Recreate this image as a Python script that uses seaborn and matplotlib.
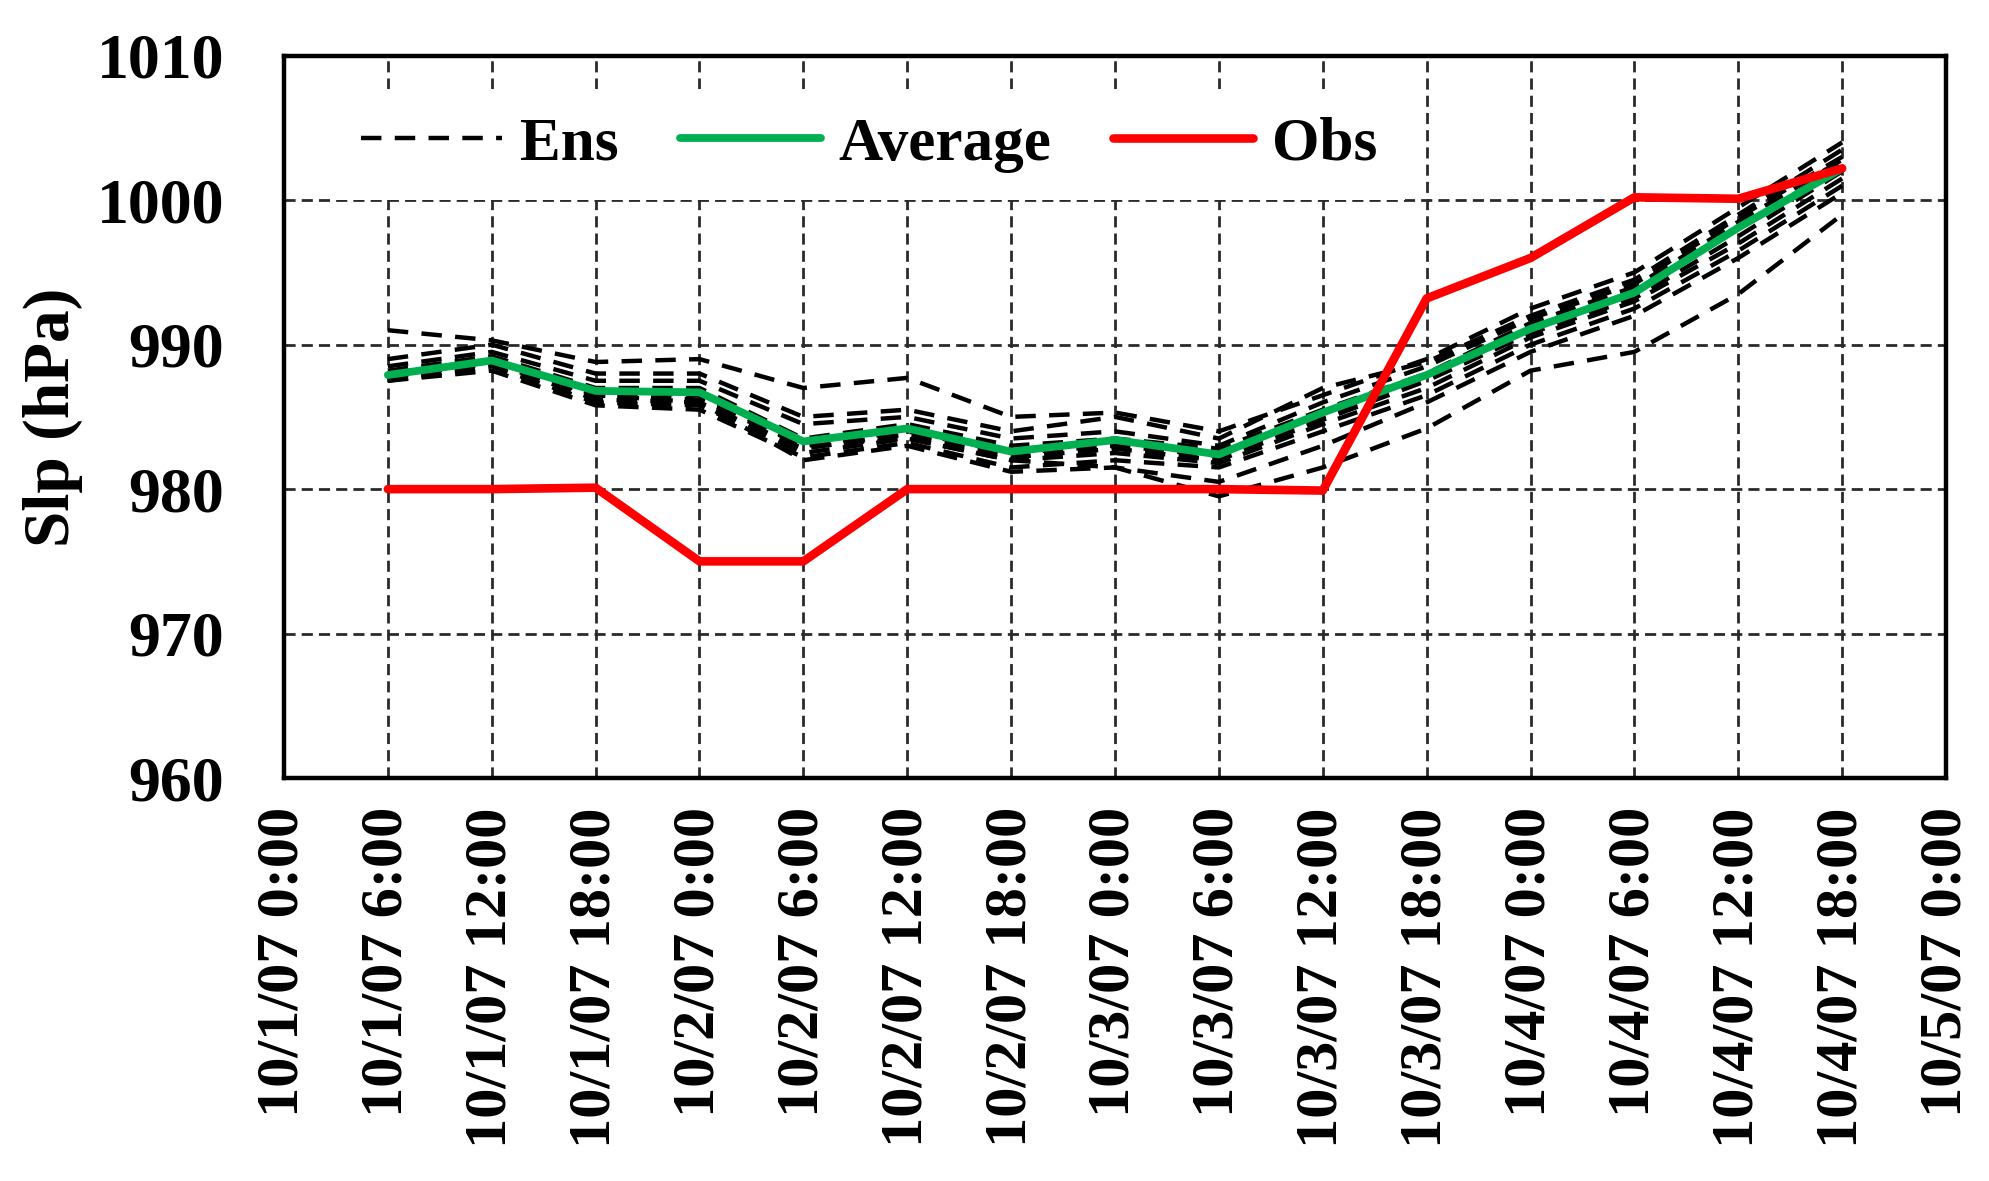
import numpy as np
import pandas as pd
import matplotlib
matplotlib.use("Agg")
import matplotlib.pyplot as plt
from matplotlib.lines import Line2D
import seaborn as sns

# ---------------- data ----------------
times = ["10/1/07 6:00", "10/1/07 12:00", "10/1/07 18:00",
         "10/2/07 0:00", "10/2/07 6:00", "10/2/07 12:00", "10/2/07 18:00",
         "10/3/07 0:00", "10/3/07 6:00", "10/3/07 12:00", "10/3/07 18:00",
         "10/4/07 0:00", "10/4/07 6:00", "10/4/07 12:00", "10/4/07 18:00"]

tick_labels = ["10/1/07 0:00", "10/1/07 6:00", "10/1/07 12:00", "10/1/07 18:00",
               "10/2/07 0:00", "10/2/07 6:00", "10/2/07 12:00", "10/2/07 18:00",
               "10/3/07 0:00", "10/3/07 6:00", "10/3/07 12:00", "10/3/07 18:00",
               "10/4/07 0:00", "10/4/07 6:00", "10/4/07 12:00", "10/4/07 18:00",
               "10/5/07 0:00"]

obs = [980.0, 980.0, 980.1, 975.0, 975.0, 980.0, 980.0, 980.0, 980.0,
       979.9, 993.2, 996.0, 1000.2, 1000.1, 1002.2]

average = [987.9, 988.9, 986.8, 986.7, 983.3, 984.2, 982.6, 983.4, 982.4,
           985.3, 987.9, 991.1, 993.6, 998.1, 1002.2]

ens_01 = [991.0, 990.3, 988.8, 989.0, 987.0, 987.7, 985.0, 985.3, 984.0, 986.5, 989.0, 992.5, 995.0, 999.5, 1004.0]
ens_02 = [989.0, 990.0, 988.0, 988.0, 985.0, 985.5, 984.0, 985.0, 983.5, 987.0, 988.8, 992.0, 994.5, 999.0, 1003.5]
ens_03 = [988.5, 989.5, 987.5, 987.5, 984.5, 985.0, 983.5, 984.0, 983.0, 986.0, 988.5, 991.8, 994.2, 998.8, 1003.0]
ens_04 = [988.2, 989.2, 987.0, 987.0, 983.5, 984.5, 983.0, 983.5, 982.8, 985.5, 988.0, 991.5, 994.0, 998.5, 1002.8]
ens_05 = [988.0, 989.0, 986.8, 986.5, 983.0, 984.0, 982.5, 983.0, 982.3, 985.0, 987.8, 991.0, 993.5, 998.0, 1002.5]
ens_06 = [987.8, 988.7, 986.5, 986.0, 982.8, 983.8, 982.2, 982.8, 982.0, 984.8, 987.5, 990.8, 993.2, 997.5, 1002.0]
ens_07 = [987.5, 988.5, 986.0, 985.8, 982.5, 983.5, 982.0, 982.5, 981.8, 984.5, 987.0, 990.5, 993.0, 997.0, 1001.5]
ens_08 = [987.5, 988.2, 985.8, 985.5, 982.2, 983.2, 981.5, 982.0, 981.5, 984.0, 986.5, 990.0, 992.5, 996.5, 1001.0]
ens_09 = [987.7, 988.8, 986.2, 986.0, 982.0, 983.0, 981.2, 981.5, 980.5, 983.0, 986.0, 989.5, 992.0, 996.0, 1000.5]
ens_10 = [988.0, 989.0, 986.5, 986.2, 983.0, 983.5, 982.0, 981.5, 979.5, 981.5, 984.2, 988.2, 989.5, 993.5, 999.0]

ensembles = [ens_01, ens_02, ens_03, ens_04, ens_05, ens_06, ens_07, ens_08, ens_09, ens_10]

y_ticks = [960, 970, 980, 990, 1000, 1010]

# ---------------- build frames ----------------
start = pd.to_datetime(tick_labels[0], format="%m/%d/%y %H:%M")
hours = ((pd.to_datetime(times, format="%m/%d/%y %H:%M") - start) / pd.Timedelta(hours=1)).to_numpy()
tick_hours = ((pd.to_datetime(tick_labels, format="%m/%d/%y %H:%M") - start) / pd.Timedelta(hours=1)).to_numpy()

ens_df = pd.concat(
    [pd.DataFrame({"hours": hours, "slp": vals, "member": i}) for i, vals in enumerate(ensembles)],
    ignore_index=True)
avg_df = pd.DataFrame({"hours": hours, "slp": average})
obs_df = pd.DataFrame({"hours": hours, "slp": obs})

# ---------------- style ----------------
sns.set_style("white")
plt.rcParams["font.family"] = ["Liberation Serif", "DejaVu Serif"]
plt.rcParams["font.weight"] = "bold"
plt.rcParams["text.color"] = "black"
plt.rcParams["axes.labelcolor"] = "black"
plt.rcParams["xtick.color"] = "black"
plt.rcParams["ytick.color"] = "black"

GREEN = "#00B050"
RED = "#FF0000"
ens_ls = (0, (4.6, 3.0))

fig = plt.figure(figsize=(19.9, 11.81), dpi=100)
ax = fig.add_axes([0.1427, 0.3412, 0.8352, 0.6116])

sns.lineplot(data=ens_df, x="hours", y="slp", units="member", estimator=None,
             color="black", linewidth=3.2, linestyle=ens_ls, ax=ax, legend=False, zorder=3)
sns.lineplot(data=avg_df, x="hours", y="slp", color=GREEN, linewidth=5.6,
             ax=ax, legend=False, zorder=4)
sns.lineplot(data=obs_df, x="hours", y="slp", color=RED, linewidth=6.2,
             ax=ax, legend=False, zorder=5)

ax.set_xlim(tick_hours[0], tick_hours[-1])
ax.set_ylim(y_ticks[0], y_ticks[-1])
ax.set_xticks(tick_hours)
ax.set_xticklabels(tick_labels, rotation=90, fontsize=43.5, fontweight="bold", color="black")
ax.set_yticks(y_ticks)
ax.set_yticklabels([str(v) for v in y_ticks], fontsize=46, fontweight="bold", color="black")
ax.tick_params(axis="x", length=0, pad=21)
ax.tick_params(axis="y", length=0, pad=43)

ax.set_xlabel("")
ax.set_ylabel("Slp (hPa)", fontsize=47, fontweight="bold", color="black")
ax.yaxis.set_label_coords(-0.121, 0.5)

ax.set_axisbelow(True)
ax.grid(True, color="#2a2a2a", linewidth=2.0, linestyle=(0, (4, 2.2)))

for sp in ax.spines.values():
    sp.set_visible(True)
    sp.set_color("black")
    sp.set_linewidth(3.2)

handles = [Line2D([], [], color="black", linewidth=3.2, linestyle=ens_ls),
           Line2D([], [], color=GREEN, linewidth=5.6),
           Line2D([], [], color=RED, linewidth=6.2)]
leg = ax.legend(handles, ["Ens", "Average", "Obs"], ncol=3, loc="lower left",
                bbox_to_anchor=(0.030, 0.8),
                prop={"family": "Liberation Serif", "weight": "bold", "size": 44},
                handlelength=2.3, handletextpad=0.3, columnspacing=1.0,
                borderpad=0.45, frameon=True, fancybox=False, framealpha=1.0,
                borderaxespad=0)
leg.get_frame().set_facecolor("white")
leg.get_frame().set_edgecolor("none")
leg.set_zorder(2)
for t in leg.get_texts():
    t.set_color("black")

fig.savefig("out.png", dpi=100, facecolor="white")
